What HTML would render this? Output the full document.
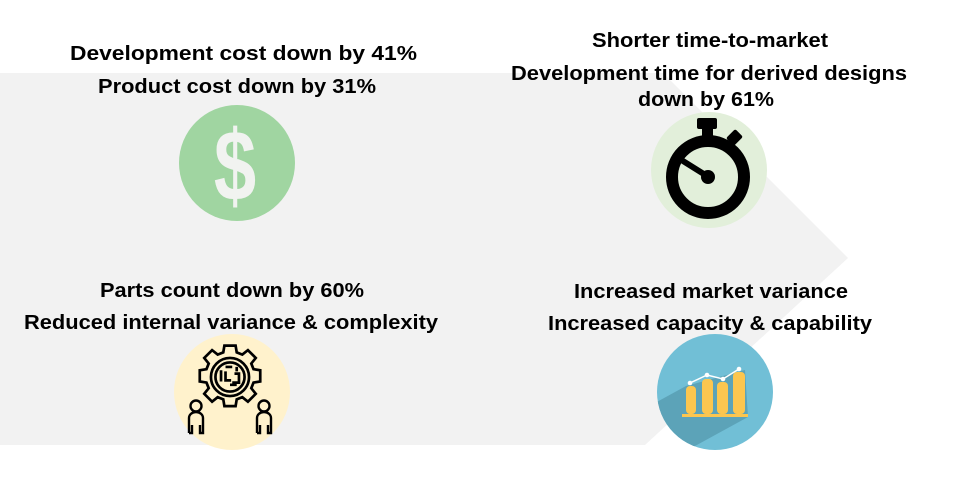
<!DOCTYPE html>
<html>
<head>
<meta charset="utf-8">
<style>
  html, body { margin:0; padding:0; background:#ffffff; }
  body { width:954px; height:501px; overflow:hidden; }
  svg { display:block; }
  .t { font-family:"Liberation Sans", Arial, sans-serif; font-weight:bold; font-size:20px; fill:#000; }
</style>
</head>
<body>
<svg width="954" height="501" viewBox="0 0 954 501" xmlns="http://www.w3.org/2000/svg">
  <defs>
    <clipPath id="blueClip"><circle cx="715" cy="392" r="58"/></clipPath>
  </defs>
  <!-- background arrow -->
  <polygon points="0,73 663,73 848,258 645,445 0,445" fill="#f2f2f2"/>

  <!-- Text -->
  <text class="t" x="70" y="60" textLength="347" lengthAdjust="spacingAndGlyphs">Development cost down by 41%</text>
  <text class="t" x="98" y="93" textLength="278" lengthAdjust="spacingAndGlyphs">Product cost down by 31%</text>

  <text class="t" x="592" y="47" textLength="236" lengthAdjust="spacingAndGlyphs">Shorter time-to-market</text>
  <text class="t" x="511" y="80" textLength="396" lengthAdjust="spacingAndGlyphs">Development time for derived designs</text>
  <text class="t" x="638" y="106" textLength="136" lengthAdjust="spacingAndGlyphs">down by 61%</text>

  <text class="t" x="100" y="297" textLength="264" lengthAdjust="spacingAndGlyphs">Parts count down by 60%</text>
  <text class="t" x="24" y="329" textLength="414" lengthAdjust="spacingAndGlyphs">Reduced internal variance &amp; complexity</text>

  <text class="t" x="574" y="298" textLength="274" lengthAdjust="spacingAndGlyphs">Increased market variance</text>
  <text class="t" x="548" y="330" textLength="324" lengthAdjust="spacingAndGlyphs">Increased capacity &amp; capability</text>

  <!-- Dollar icon -->
  <circle cx="237" cy="163" r="58" fill="#a0d5a1"/>
  <text x="0" y="0" transform="translate(235,200) scale(0.76,1)" text-anchor="middle" font-family="Liberation Sans, Arial, sans-serif" font-weight="bold" font-size="100" fill="#f1f3f0">$</text>

  <!-- Stopwatch icon -->
  <circle cx="709" cy="170" r="58" fill="#e2efda"/>
  <circle cx="708" cy="177" r="36" fill="none" stroke="#000" stroke-width="12"/>
  <rect x="697" y="118" width="20" height="11" rx="2" fill="#000"/>
  <rect x="702" y="127" width="11" height="12" fill="#000"/>
  <rect x="729" y="131" width="11" height="13" rx="2" fill="#000" transform="rotate(45 734.5 137.5)"/>
  <line x1="683" y1="161" x2="707" y2="176" stroke="#000" stroke-width="6" stroke-linecap="round"/>
  <circle cx="708" cy="177" r="7" fill="#000"/>

  <!-- Gear / people icon -->
  <circle cx="232" cy="392" r="58" fill="#fff2cc"/>
  <g fill="none" stroke="#000" stroke-width="2.4">
    <g transform="translate(230,377) scale(1.12) translate(-230,-377)">
      <path d="M225,349 h10 l1,6 l5,2 l5,-4 l7,7 l-4,5 l2,5 l6,1 v10 l-6,1 l-2,5 l4,5 l-7,7 l-5,-4 l-5,2 l-1,6 h-10 l-1,-6 l-5,-2 l-5,4 l-7,-7 l4,-5 l-2,-5 l-6,-1 v-10 l6,-1 l2,-5 l-4,-5 l7,-7 l5,4 l5,-2 z"/>
      <circle cx="230" cy="377" r="17"/>
      <circle cx="230" cy="377" r="13"/>
      <path d="M222,371 v10 M226,368 h6 M226,372 v8 h5 M234,374 h4 v8 h-6 M230,384 h6 M236,368 v4"/>
    </g>
    <circle cx="196" cy="406" r="5.5"/>
    <path d="M189,433 v-15 a7,6 0 0 1 14,0 v15 h-3 v-8 m-8,0 v8 h-3"/>
    <circle cx="264" cy="406" r="5.5"/>
    <path d="M257,433 v-15 a7,6 0 0 1 14,0 v15 h-3 v-8 m-8,0 v8 h-3"/>
  </g>

  <!-- Bar chart icon -->
  <circle cx="715" cy="392" r="58" fill="#71bfd6"/>
  <polygon clip-path="url(#blueClip)" points="686,386 745,370 748,417 600,498 600,433" fill="#5ca3b8"/>
  <g fill="#fcc64f">
    <rect x="686" y="386" width="10" height="28" rx="4"/>
    <rect x="702" y="379" width="11" height="35" rx="4"/>
    <rect x="717" y="382" width="11" height="32" rx="4"/>
    <rect x="733" y="372" width="12" height="42" rx="4"/>
    <rect x="682" y="414" width="66" height="3"/>
  </g>
  <polyline points="690,383 707,375 723,379 739,369" fill="none" stroke="#ffffff" stroke-width="1.5"/>
  <g fill="#ffffff">
    <circle cx="690" cy="383" r="2.3"/>
    <circle cx="707" cy="375" r="2.3"/>
    <circle cx="723" cy="379" r="2.3"/>
    <circle cx="739" cy="369" r="2.3"/>
  </g>
</svg>
</body>
</html>
